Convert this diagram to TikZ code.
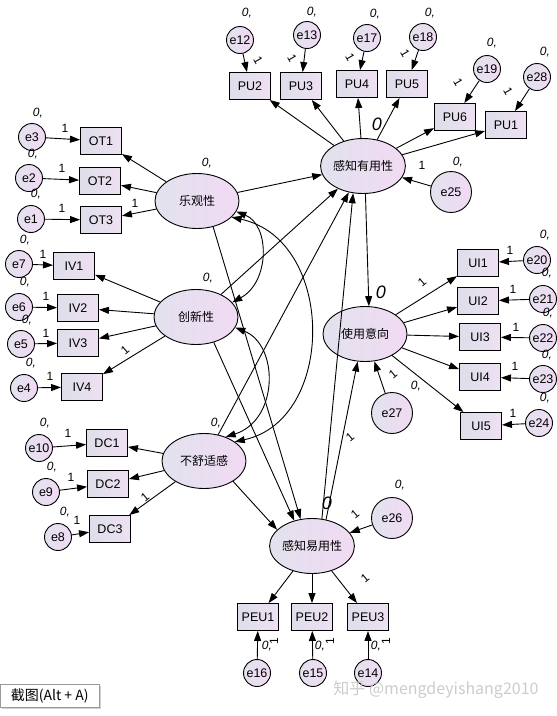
\documentclass[tikz,border=0pt]{standalone}
\usepackage{fontspec}
\setmainfont{Liberation Sans}
\newfontfamily\cjk{Noto Sans CJK SC}
\usetikzlibrary{arrows.meta,shapes.geometric}
\definecolor{latL}{RGB}{226,226,238}
\definecolor{latR}{RGB}{241,218,243}
\definecolor{obsL}{RGB}{222,222,234}
\definecolor{obsR}{RGB}{238,224,242}
\begin{document}
\begin{tikzpicture}[x=1pt,y=-1pt,
  >={Triangle[length=10pt,width=7pt]},
  lat/.style={ellipse,draw,line width=0.9pt,left color=latL,right color=latR,minimum width=84pt,minimum height=55pt,inner sep=0pt,font=\cjk\fontsize{12}{12}\selectfont},
  obs/.style={rectangle,draw,line width=0.9pt,left color=obsL,right color=obsR,minimum width=41pt,minimum height=27pt,inner sep=0pt,font=\fontsize{12.5}{12.5}\selectfont},
  err/.style={circle,draw,line width=0.9pt,left color=latL,right color=latR,minimum size=27pt,inner sep=0pt,font=\fontsize{12.5}{12.5}\selectfont},
  errb/.style={err,minimum size=41pt},
  pth/.style={->,line width=0.9pt},
  cov/.style={<->,line width=0.9pt},
  zl/.style={font=\itshape\fontsize{12}{12}\selectfont,inner sep=0pt},
  one/.style={font=\fontsize{12}{12}\selectfont,inner sep=0pt},
  bigz/.style={font=\itshape\fontsize{18}{18}\selectfont,inner sep=0pt}]
\fill[white] (0,0) rectangle (557,716);
\useasboundingbox (0,0) rectangle (557,716);

% latent variables
\node[lat] (ot) at (197,201) {乐观性};
\node[lat] (iv) at (196,317) {创新性};
\node[lat] (dc) at (204,461) {不舒适感};
\node[lat] (pu) at (363,166) {感知有用性};
\node[lat] (ui) at (365,334) {使用意向};
\node[lat] (peu) at (312,546) {感知易用性};

% observed
\node[obs] (ot1) at (101,141) {OT1};
\node[obs] (ot2) at (100,181) {OT2};
\node[obs] (ot3) at (101,220) {OT3};
\node[obs] (pu2) at (250,86) {PU2};
\node[obs] (pu3) at (301,86) {PU3};
\node[obs] (pu4) at (357,84) {PU4};
\node[obs] (pu5) at (407,84) {PU5};
\node[obs] (pu6) at (455,117) {PU6};
\node[obs] (pu1) at (506,125) {PU1};
\node[obs] (iv1) at (74,266) {IV1};
\node[obs] (iv2) at (78,308) {IV2};
\node[obs] (iv3) at (78,343) {IV3};
\node[obs] (iv4) at (82,387) {IV4};
\node[obs] (dc1) at (107,443) {DC1};
\node[obs] (dc2) at (108,484) {DC2};
\node[obs] (dc3) at (110,529) {DC3};
\node[obs] (ui1) at (478,263) {UI1};
\node[obs] (ui2) at (478,301) {UI2};
\node[obs] (ui3) at (480,337) {UI3};
\node[obs] (ui4) at (480,377) {UI4};
\node[obs] (ui5) at (481,426) {UI5};
\node[obs] (peu1) at (258,617) {PEU1};
\node[obs] (peu2) at (312,617) {PEU2};
\node[obs] (peu3) at (368,617) {PEU3};

% errors
\node[err] (e12) at (240,40) {e12};
\node[err] (e13) at (307,35) {e13};
\node[err] (e17) at (367,38) {e17};
\node[err] (e18) at (423,37) {e18};
\node[err] (e19) at (487,69) {e19};
\node[err] (e28) at (537,77) {e28};
\node[errb] (e25) at (451,192) {e25};
\node[err] (e3) at (32,137) {e3};
\node[err] (e2) at (29,178) {e2};
\node[err] (e1) at (31,219) {e1};
\node[err] (e7) at (19,264) {e7};
\node[err] (e6) at (19,307) {e6};
\node[err] (e5) at (21,344) {e5};
\node[err] (e4) at (24,388) {e4};
\node[err] (e10) at (39,448) {e10};
\node[err] (e9) at (46,492) {e9};
\node[err] (e8) at (58,537) {e8};
\node[err] (e20) at (537,260) {e20};
\node[err] (e21) at (543,299) {e21};
\node[err] (e22) at (543,338) {e22};
\node[err] (e23) at (543,379) {e23};
\node[err] (e24) at (539,423) {e24};
\node[errb] (e27) at (392,413) {e27};
\node[errb] (e26) at (392,518) {e26};
\node[err] (e16) at (257,673) {e16};
\node[err] (e15) at (313,673) {e15};
\node[err] (e14) at (368,673) {e14};

% measurement paths
\foreach \s/\t in {ot/ot1,ot/ot2,ot/ot3,pu/pu2,pu/pu3,pu/pu4,pu/pu5,pu/pu6,pu/pu1,
  iv/iv1,iv/iv2,iv/iv3,iv/iv4,dc/dc1,dc/dc2,dc/dc3,ui/ui1,ui/ui2,ui/ui3,ui/ui4,ui/ui5,
  peu/peu1,peu/peu2,peu/peu3,
  e12/pu2,e13/pu3,e17/pu4,e18/pu5,e19/pu6,e28/pu1,e25/pu,
  e3/ot1,e2/ot2,e1/ot3,e7/iv1,e6/iv2,e5/iv3,e4/iv4,e10/dc1,e9/dc2,e8/dc3,
  e20/ui1,e21/ui2,e22/ui3,e23/ui4,e24/ui5,e27/ui,e26/peu,e16/peu1,e15/peu2,e14/peu3}
  \draw[pth] (\s) -- (\t);

% structural paths
\draw[pth] (ot) -- (pu);
\draw[pth] (iv) -- (pu);
\draw[pth] (dc) -- (pu);
\draw[pth] (peu.70) -- (pu.-110);
\draw[pth] (peu.62) -- (ui.-105);
\draw[pth] (pu.-85) -- (ui.82);
\draw[pth] (ot.-58) -- (peu.113);
\draw[pth] (iv.-55) -- (peu.125);
\draw[pth] (dc.-35) -- (peu.155);

% covariances
\draw[cov] (ot.-15) .. controls (270,225) and (270,282) .. (iv.22);
\draw[cov] (ot.-25) .. controls (336,240) and (336,420) .. (dc.32);
\draw[cov] (iv.-15) .. controls (279,345) and (279,420) .. (dc.48);

% intercept / variance labels
\foreach \p in {(247,13),(312,12),(375,14),(430,13),(492,43),(545,52),(458,162),
  (207,163),(208,278),(216,423),
  (38,113),(33,154),(36,194),(25,240),(25,282),(27,320),(31,363),
  (45,423),(52,467),(65,512),
  (545,235),(547,273),(548,313),(547,355),(545,398),
  (400,485),(267,646),(320,646),(376,646),(416,386)}
  \node[zl] at \p {0,};

% loading labels
\foreach \p in {(65,128),(62,168),(62,208),(135,203),
  (43,254),(46,296),(46,333),(50,376),
  (68,433),(71,477),(77,520),
  (510,250),(513,289),(516,327),(515,366),(513,413),(422,165)}
  \node[one] at \p {1};
\foreach \p in {(258,60),(292,58),(350,57),(405,53),(458,82),(508,91)}
  \node[one,rotate=-60] at \p {1};
\foreach \p in {(125,350),(145,497),(422,282),(393,374),(350,437),(355,514),(365,578)}
  \node[one,rotate=40] at \p {1};
\foreach \p in {(274,641),(330,641),(386,641)}
  \node[one,rotate=90] at \p {1};

% large zeros
\node[bigz] at (377,124) {0};
\node[bigz] at (381,292) {0};
\node[bigz] at (327,503) {0};

% screenshot tag and watermark
\fill[gray!35] (2,686) rectangle (101,709);
\node[draw=gray!80,fill=white,anchor=north west,minimum width=99pt,minimum height=23pt,inner sep=0pt,font=\cjk\fontsize{14}{14}\selectfont] (tag) at (0,684) {截图(Alt + A)};
\node[font=\cjk\fontsize{16}{16}\selectfont,text=gray!40] (wm) at (436,690) {知乎 @mengdeyishang2010};
\end{tikzpicture}
\end{document}
